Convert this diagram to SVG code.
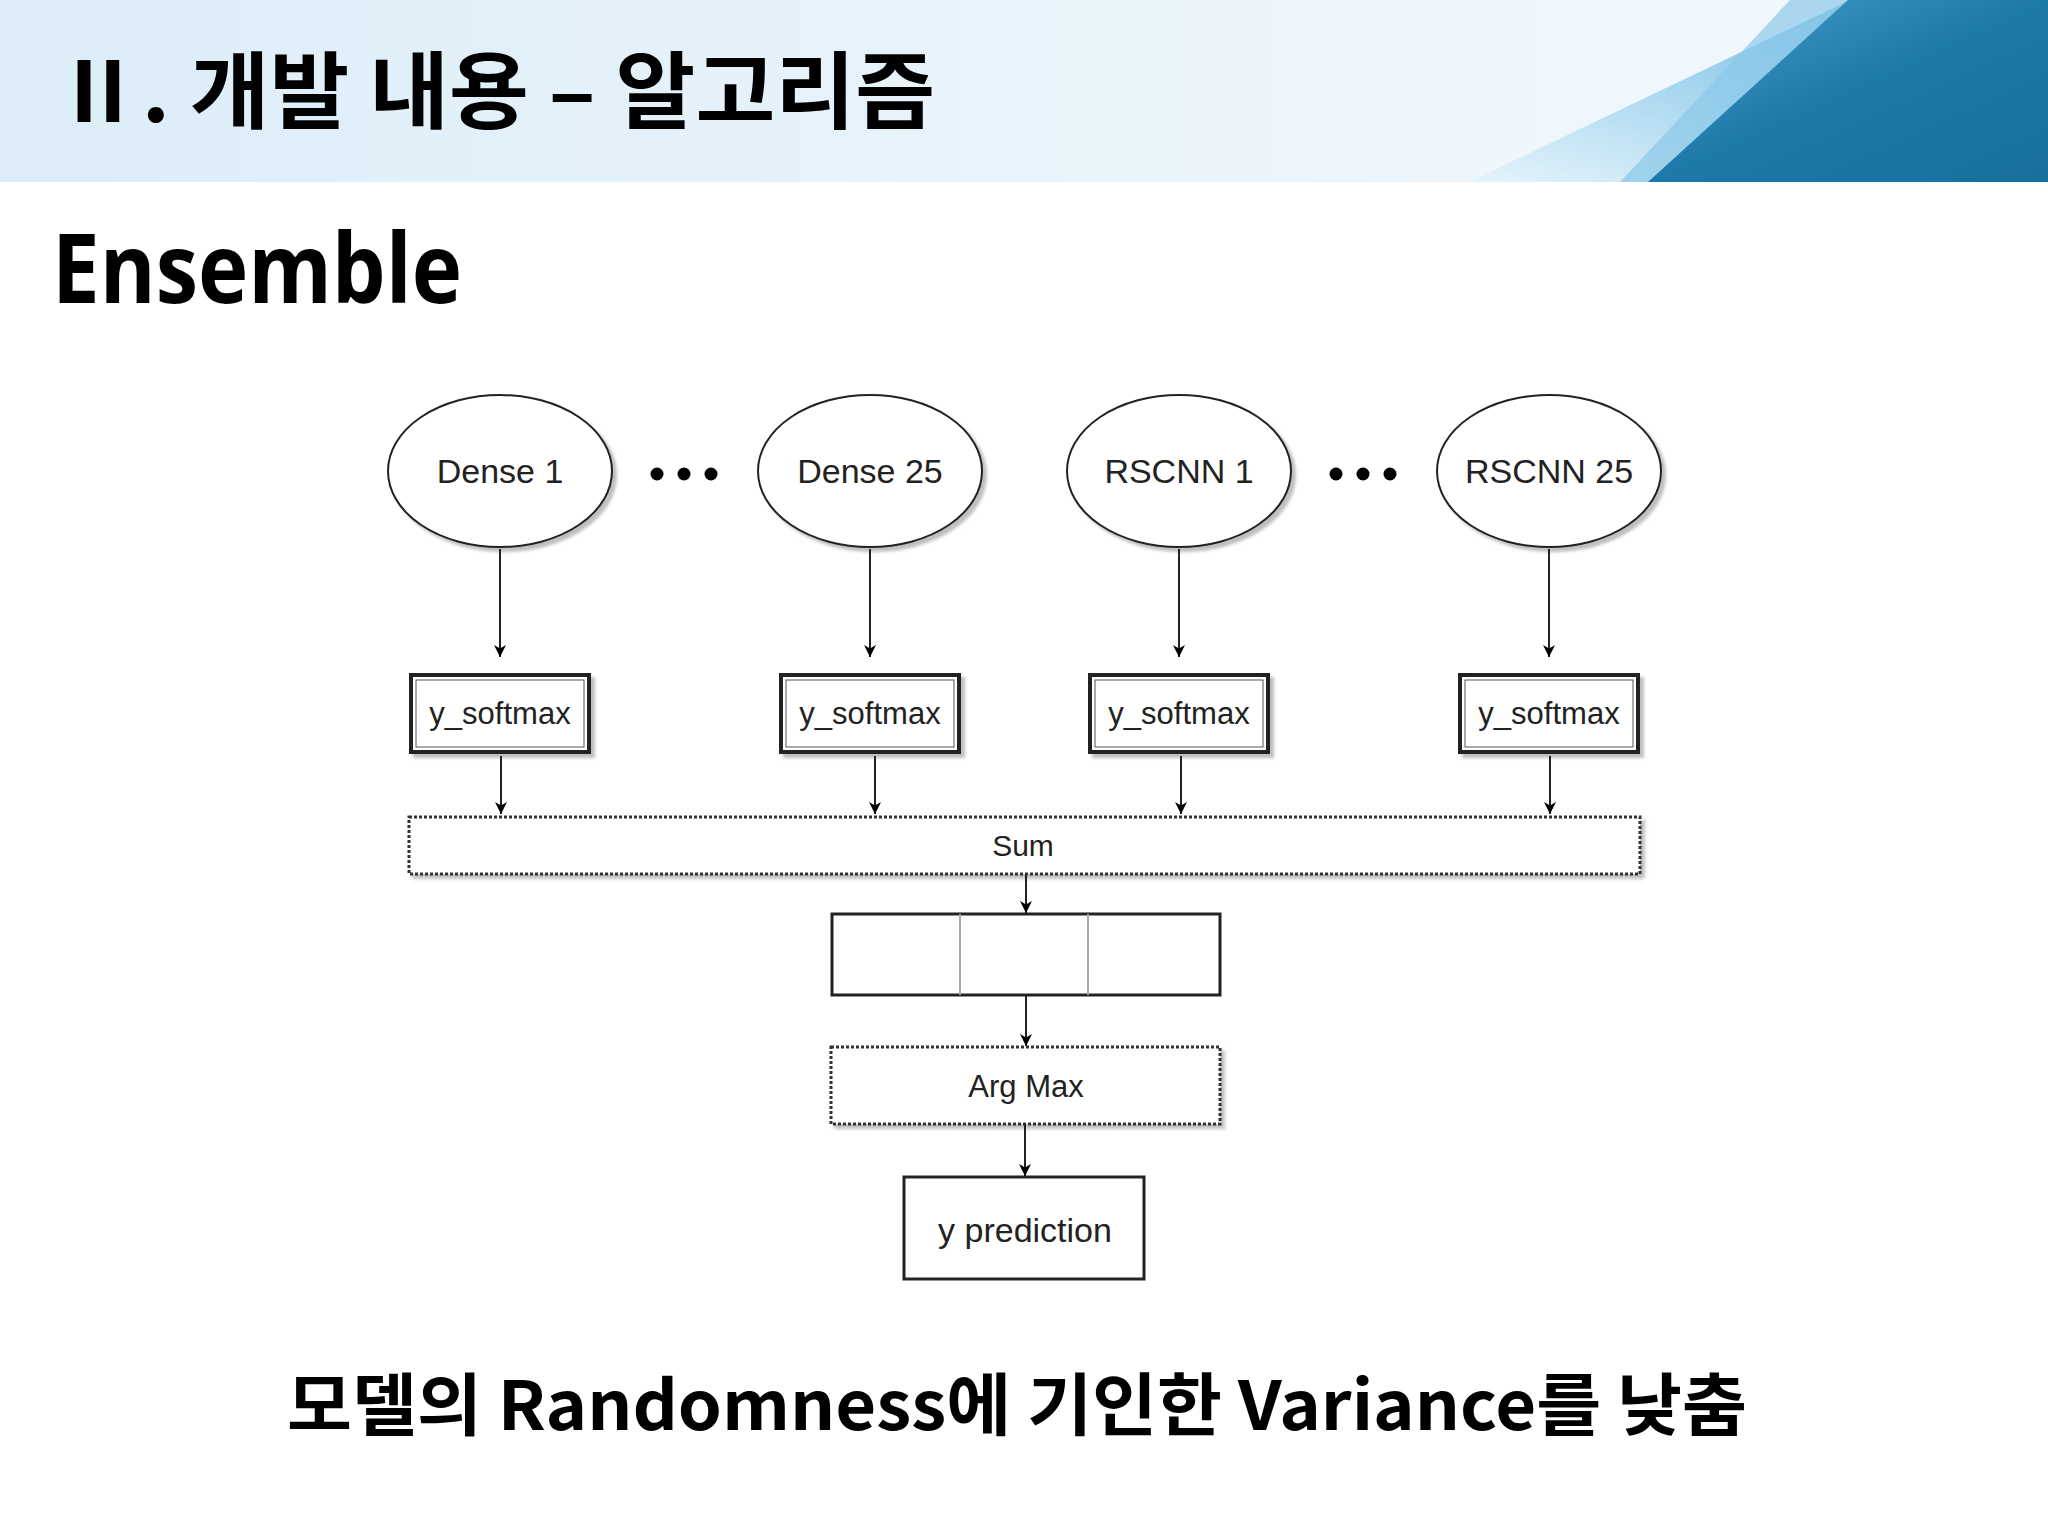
<svg xmlns="http://www.w3.org/2000/svg" width="2048" height="1536" viewBox="0 0 2048 1536">
<defs>
<linearGradient id="hdr" x1="0" y1="0" x2="1" y2="0"><stop offset="0" stop-color="#dcedf8"/><stop offset="0.7" stop-color="#eef6fc"/><stop offset="1" stop-color="#f4f9fd"/></linearGradient>
<linearGradient id="lb" x1="0" y1="1" x2="1" y2="0"><stop offset="0" stop-color="#e6f4fb"/><stop offset="0.5" stop-color="#9fd3ee"/><stop offset="1" stop-color="#5fb2dd"/></linearGradient>
<linearGradient id="db" x1="0" y1="0" x2="1" y2="1"><stop offset="0" stop-color="#4aa2cf"/><stop offset="0.5" stop-color="#1d79a8"/><stop offset="1" stop-color="#186f9e"/></linearGradient>
<marker id="ah" viewBox="0 0 10 10" refX="10" refY="5" markerWidth="12" markerHeight="12" markerUnits="userSpaceOnUse" orient="auto"><path d="M0,0 L10,5 L0,10 L3,5 Z" fill="#000"/></marker>
<filter id="sh" x="-10%" y="-10%" width="130%" height="130%"><feDropShadow dx="4" dy="4" stdDeviation="1.5" flood-color="#000" flood-opacity="0.25"/></filter>
</defs>
<style>
.lbl{font-family:"Liberation Sans",Arial,sans-serif;fill:#222;text-anchor:middle}
.ell{fill:#fff;stroke:#222;stroke-width:2}
.dot{fill:#fff;stroke:#333;stroke-width:3;stroke-dasharray:3 2}
.box{fill:#fff;stroke:#222;stroke-width:3}
.ln{stroke:#222;stroke-width:2;fill:none;marker-end:url(#ah)}
</style>
<rect width="2048" height="1536" fill="#fff"/>
<rect width="2048" height="182" fill="url(#hdr)"/>
<polygon points="1469,182 1850,0 2048,0 2048,182" fill="url(#lb)"/>
<polygon points="1620,182 1790,0 1860,0 1700,182" fill="#8cc8e8" opacity="0.7"/>
<polygon points="1648,182 1848,0 2048,0 2048,182" fill="url(#db)"/>
<text x="55" y="122" font-family="'Noto Sans CJK KR',sans-serif" font-weight="bold" font-size="84" fill="#000" textLength="880" lengthAdjust="spacingAndGlyphs">Ⅱ. 개발 내용 – 알고리즘</text>
<text x="52" y="303" font-family="'Open Sans','Noto Sans',sans-serif" font-weight="bold" font-size="96" fill="#000" textLength="410" lengthAdjust="spacingAndGlyphs">Ensemble</text>
<g id="dense1"><ellipse class="ell" cx="500" cy="471" rx="112" ry="76" filter="url(#sh)"/><text class="lbl" x="500" y="483" font-size="34">Dense 1</text></g>
<g id="dense25"><ellipse class="ell" cx="870" cy="471" rx="112" ry="76" filter="url(#sh)"/><text class="lbl" x="870" y="483" font-size="34">Dense 25</text></g>
<g id="rscnn1"><ellipse class="ell" cx="1179" cy="471" rx="112" ry="76" filter="url(#sh)"/><text class="lbl" x="1179" y="483" font-size="34">RSCNN 1</text></g>
<g id="rscnn25"><ellipse class="ell" cx="1549" cy="471" rx="112" ry="76" filter="url(#sh)"/><text class="lbl" x="1549" y="483" font-size="34">RSCNN 25</text></g>
<g id="dots1" fill="#000"><circle cx="657" cy="474" r="6.5"/><circle cx="684" cy="474" r="6.5"/><circle cx="711" cy="474" r="6.5"/></g>
<g id="dots2" fill="#000"><circle cx="1336" cy="474" r="6.5"/><circle cx="1363" cy="474" r="6.5"/><circle cx="1390" cy="474" r="6.5"/></g>
<g id="sm1"><rect x="411" y="675" width="178" height="77" fill="#fff" stroke="#222" stroke-width="4" filter="url(#sh)"/><rect x="416" y="680" width="168" height="67" fill="none" stroke="#555" stroke-width="1"/><text class="lbl" x="500" y="724" font-size="31">y_softmax</text></g>
<g id="sm2"><rect x="781" y="675" width="178" height="77" fill="#fff" stroke="#222" stroke-width="4" filter="url(#sh)"/><rect x="786" y="680" width="168" height="67" fill="none" stroke="#555" stroke-width="1"/><text class="lbl" x="870" y="724" font-size="31">y_softmax</text></g>
<g id="sm3"><rect x="1090" y="675" width="178" height="77" fill="#fff" stroke="#222" stroke-width="4" filter="url(#sh)"/><rect x="1095" y="680" width="168" height="67" fill="none" stroke="#555" stroke-width="1"/><text class="lbl" x="1179" y="724" font-size="31">y_softmax</text></g>
<g id="sm4"><rect x="1460" y="675" width="178" height="77" fill="#fff" stroke="#222" stroke-width="4" filter="url(#sh)"/><rect x="1465" y="680" width="168" height="67" fill="none" stroke="#555" stroke-width="1"/><text class="lbl" x="1549" y="724" font-size="31">y_softmax</text></g>
<g id="sum"><rect class="dot" x="409" y="817" width="1231" height="57" filter="url(#sh)"/><text class="lbl" x="1023" y="856" font-size="30">Sum</text></g>
<g id="vec"><rect class="box" x="832" y="914" width="388" height="81"/><line x1="960" y1="914" x2="960" y2="995" stroke="#aaa" stroke-width="2"/><line x1="1088" y1="914" x2="1088" y2="995" stroke="#aaa" stroke-width="2"/></g>
<g id="argmax"><rect class="dot" x="831" y="1047" width="389" height="77" filter="url(#sh)"/><text class="lbl" x="1026" y="1097" font-size="31">Arg Max</text></g>
<g id="pred"><rect class="box" x="904" y="1177" width="240" height="102"/><text class="lbl" x="1025" y="1242" font-size="34">y prediction</text></g>
<g id="connectors">
<line class="ln" x1="500" y1="549" x2="500" y2="657"/>
<line class="ln" x1="870" y1="549" x2="870" y2="657"/>
<line class="ln" x1="1179" y1="549" x2="1179" y2="657"/>
<line class="ln" x1="1549" y1="549" x2="1549" y2="657"/>
<line class="ln" x1="501" y1="756" x2="501" y2="814"/>
<line class="ln" x1="875" y1="756" x2="875" y2="814"/>
<line class="ln" x1="1181" y1="756" x2="1181" y2="814"/>
<line class="ln" x1="1550" y1="756" x2="1550" y2="814"/>
<line class="ln" x1="1026" y1="874" x2="1026" y2="913"/>
<line class="ln" x1="1026" y1="995" x2="1026" y2="1046"/>
<line class="ln" x1="1025" y1="1124" x2="1025" y2="1176"/>
</g>
<text x="1017" y="1430" text-anchor="middle" font-family="'Noto Sans CJK KR','Open Sans',sans-serif" font-weight="bold" font-size="68" fill="#000" textLength="1460" lengthAdjust="spacingAndGlyphs">모델의 Randomness에 기인한 Variance를 낮춤</text>
</svg>
